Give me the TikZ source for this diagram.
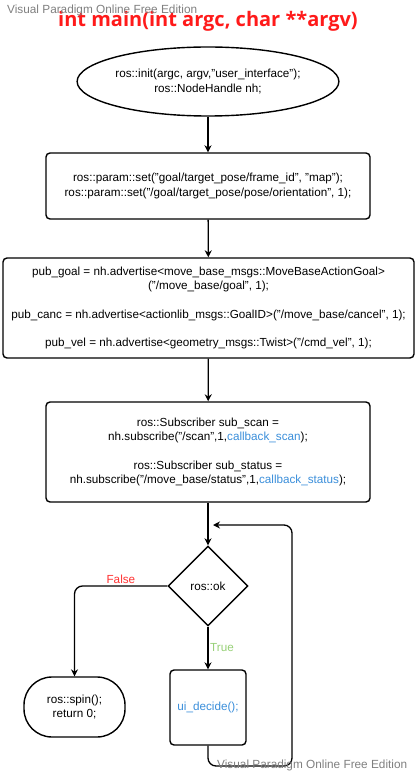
\documentclass[tikz,border=0pt]{standalone}
\usepackage{fontspec}
\setmainfont{Liberation Sans}
\newfontfamily\titlefont{Open Sans}
\usepackage{tikz}
\usetikzlibrary{shapes}
\usetikzlibrary{shapes.geometric}
\usetikzlibrary{positioning}
\usetikzlibrary{arrows.meta}
\definecolor{titlered}{HTML}{FF1A1A}
\definecolor{falsered}{HTML}{FF3333}
\definecolor{truegreen}{HTML}{97D077}
\definecolor{cbblue}{HTML}{3A8EDA}
\definecolor{wmgray}{HTML}{7F7F7F}
\newcommand\codefont{\fontsize{11.7}{14.3}\selectfont}
\tikzset{
    codebox/.style = {rectangle, rounded corners=4pt, line width=1.4pt, draw=black, align=center, inner sep=0pt, font=\codefont},
    startnode/.style = {ellipse, line width=1.4pt, draw=black, align=center, inner sep=0pt, font=\codefont},
    decnode/.style = {diamond, line width=1.4pt, draw=black, align=center, inner sep=0pt, minimum width=80pt, minimum height=80pt, font=\codefont},
    endnode/.style = {rectangle, rounded corners=28pt, line width=1.4pt, draw=black, align=center, inner sep=0pt, font=\codefont},
    edgen/.style = {-{Stealth[length=7pt,width=7pt]}, line width=1.3pt},
    edgel/.style = {font=\codefont, inner sep=1.5pt},
    watermark/.style = {anchor=west, inner sep=0pt, text=wmgray, font=\fontsize{11.8}{13}\selectfont}
}
\begin{document}
\begin{tikzpicture}[x=1pt,y=-1pt]
\useasboundingbox (0,0) rectangle (415,775);
%
\node[text=titlered,font=\titlefont\bfseries\fontsize{20}{24}\selectfont] at (208,21) (title) {int main(int argc, char **argv)};
\node[watermark] at (7,10) (wmtop) {Visual Paradigm Online Free Edition};
%
\node[startnode,minimum width=254pt,minimum height=69pt] at (208,81.5) (init) {ros::init(argc, argv,"user\_interface");\\ros::NodeHandle nh;};
\node[codebox,minimum width=324pt,minimum height=66pt] at (208,186) (param) {ros::param::set("goal/target\_pose/frame\_id", "map");\\ros::param::set("/goal/target\_pose/pose/orientation", 1);};
\node[codebox,minimum width=411pt,minimum height=100pt] at (208.5,308) (advert) {pub\_goal = nh.advertise<move\_base\_msgs::MoveBaseActionGoal>\\("/move\_base/goal", 1);\\[14pt]pub\_canc = nh.advertise<actionlib\_msgs::GoalID>("/move\_base/cancel", 1);\\[14pt]pub\_vel = nh.advertise<geometry\_msgs::Twist>("/cmd\_vel", 1);};
\node[codebox,minimum width=324pt,minimum height=100pt] at (208,452) (sub) {ros::Subscriber sub\_scan =\\nh.subscribe("/scan",1,\textcolor{cbblue}{callback\_scan});\\[14pt]ros::Subscriber sub\_status =\\nh.subscribe("/move\_base/status",1,\textcolor{cbblue}{callback\_status});};
\node[decnode] at (208,586) (ok) {ros::ok};
\node[codebox,minimum width=76pt,minimum height=75pt,text=cbblue] at (208,707.5) (decide) {ui\_decide();};
\node[endnode,minimum width=101pt,minimum height=60pt] at (74.5,707) (spin) {ros::spin();\\return 0;};
%
\coordinate (loopa) at (292,766);
\coordinate (loopb) at (292,525);
\coordinate (loopend) at (213,525);
%
\draw[edgen] (init) -- (param);
\draw[edgen] (param) -- (advert);
\draw[edgen] (advert) -- (sub);
\draw[edgen] (sub) -- (ok);
\draw[edgen,rounded corners=8pt] (ok.west) -| node[edgel,pos=0.25,above,text=falsered] {False} (spin.north);
\draw[edgen] (ok) -- node[edgel,right,text=truegreen] {True} (decide);
\draw[edgen,rounded corners=8pt] (decide.south) |- (loopa) -- (loopb) -- (loopend);

\node[watermark] at (217,765) (wmbottom) {Visual Paradigm Online Free Edition};

\end{tikzpicture}
\end{document}
